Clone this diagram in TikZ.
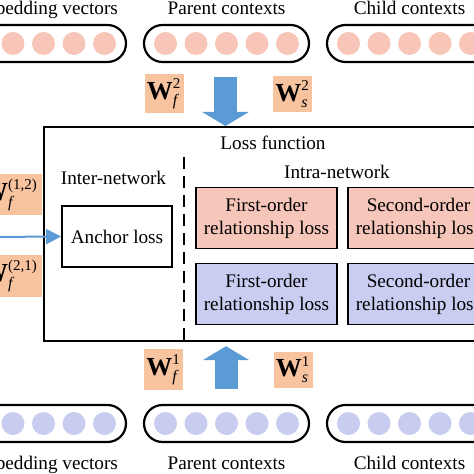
\documentclass[tikz,border=0pt]{standalone}
\usepackage{fontspec}
\setmainfont{Liberation Serif}
\usepackage{amsmath}
\usetikzlibrary{arrows.meta, positioning}
\definecolor{peach}{RGB}{248,196,160}
\definecolor{salmon}{RGB}{248,198,184}
\definecolor{lavender}{RGB}{200,204,238}
\definecolor{pinkbox}{RGB}{246,198,186}
\definecolor{bluebox}{RGB}{201,205,241}
\definecolor{arrowblue}{RGB}{91,155,213}
\newcommand{\wlab}[2]{{\fontsize{13bp}{15bp}\selectfont$\textbf{W}^{\hbox{\fontsize{7.5bp}{8bp}\selectfont #1}}_{\hbox{\fontsize{8bp}{8bp}\selectfont\itshape #2}}$}}
\tikzset{
  capsule/.style={draw, line width=1.1bp, rounded corners=9.25bp, minimum width=82.5bp, minimum height=18.5bp, inner sep=0pt},
  dot/.style={circle, inner sep=0pt, minimum size=11.5bp},
  wbox/.style={fill=peach, inner sep=0pt, minimum width=19.5bp, minimum height=19.5bp},
  lossbox/.style={draw, line width=.9bp, align=center, minimum width=70.5bp, minimum height=30.5bp, inner sep=0pt},
  fatarrow/.style={arrowblue, line width=11.5bp, -{Triangle[length=7bp, width=23bp]}},
  thinarrow/.style={arrowblue, line width=1bp, -{Triangle[length=7.5bp, width=7.5bp]}}
}
\begin{document}
\begin{tikzpicture}[x=0.5bp,y=-0.5bp, font=\fontsize{9.6bp}{11.5bp}\selectfont]
\useasboundingbox (0,0) rectangle (474,474);
\clip (0,0) rectangle (474,474);
% vector rows
\foreach \cx/\name/\txt in {43.5/emb/Embedding vectors, 226.5/par/Parent contexts, 409.5/chi/Child contexts} {
  \node[capsule] (top\name) at (\cx,43.5) {};
  \node[capsule] (bot\name) at (\cx,423.5) {};
  \foreach \k in {-2,...,2} {
    \node[dot, fill=salmon] at (\cx+30.5*\k,43.5) {};
    \node[dot, fill=lavender] at (\cx+30.5*\k,423.5) {};
  }
  \node[anchor=base] (toplab\name) at (\cx,15) {\txt};
  \node[anchor=base] (botlab\name) at (\cx,469) {\txt};
}
% loss function frame
\node[draw, line width=1.1bp, anchor=north west, minimum width=238.5bp, minimum height=107bp, inner sep=0pt] (lossfn) at (43,126) {};
\node (losslab) at (273,143) {Loss function};
\coordinate (dashtop) at (184,157);
\draw[line width=1bp, dash pattern=on 6bp off 3.5bp] (dashtop) -- (dashtop |- lossfn.south);
\node (inter) at (113.5,178) {Inter-network};
\node (intra) at (337,172) {Intra-network};
\node[lossbox, minimum width=55bp] (anchor) at (117,236.5) {Anchor loss};
\node[lossbox, fill=pinkbox] (first2) at (266.5,218) {First-order\\relationship loss};
\node[lossbox, fill=pinkbox] (second2) at (418.5,218) {Second-order\\relationship loss};
\node[lossbox, fill=bluebox] (first1) at (266.5,294) {First-order\\relationship loss};
\node[lossbox, fill=bluebox] (second1) at (418.5,294) {Second-order\\relationship loss};
% weights
\node[wbox] (wf2) at (164,93.5) {\wlab{2}{f}};
\node[wbox, minimum height=18bp] (ws2) at (292.5,94) {\wlab{2}{s}};
\node[wbox, minimum height=20.5bp] (wf1) at (163.5,369.5) {\wlab{1}{f}};
\node[wbox, minimum height=18bp] (ws1) at (293,369.5) {\wlab{1}{s}};
\node[wbox, minimum width=32bp, minimum height=20.5bp] (wf12) at (10,195) {\wlab{(1,2)}{f}};
\node[wbox, minimum width=32bp, minimum height=21bp] (wf21) at (10,276) {\wlab{(2,1)}{f}};
% arrows
\coordinate (dstart) at (225.5,77);
\coordinate (ustart) at (226,389);
\coordinate (wleft) at (-10,237);
\draw[fatarrow] (dstart) -- (dstart |- lossfn.north);
\draw[fatarrow, shorten >=2bp] (ustart) -- (ustart |- lossfn.south);
\draw[thinarrow] (wleft) -- (anchor.west);
\end{tikzpicture}
\end{document}
